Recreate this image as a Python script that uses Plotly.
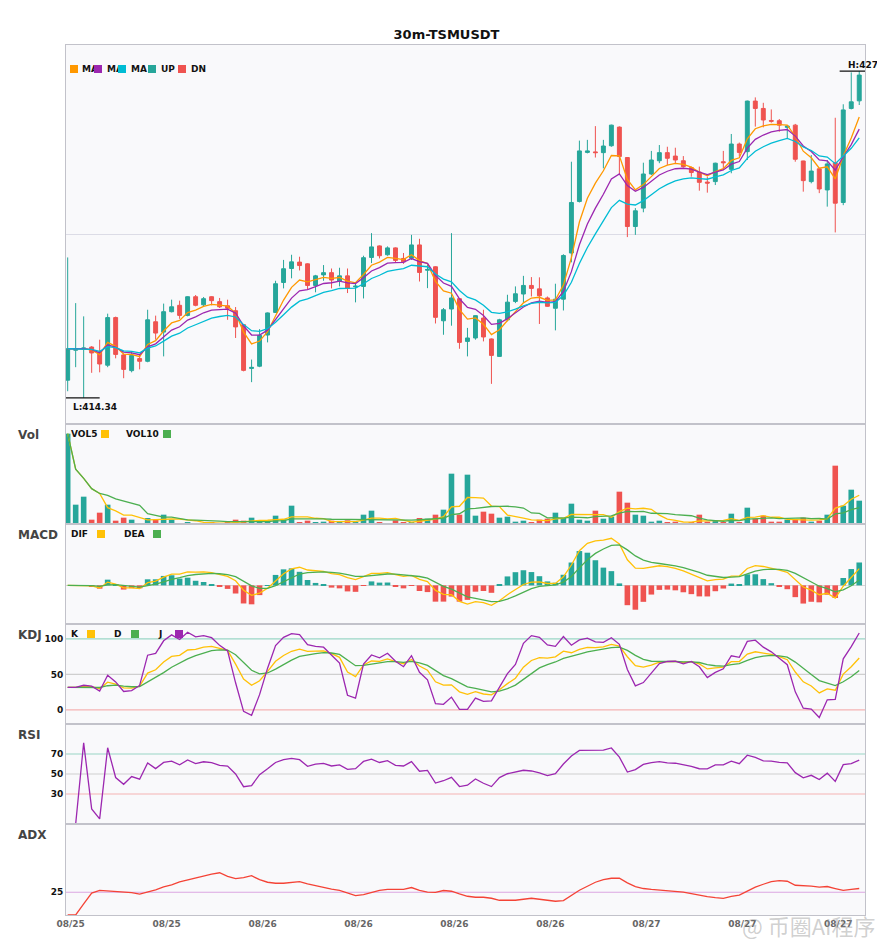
import numpy as np
import pandas as pd
import plotly.graph_objects as go
from plotly.subplots import make_subplots

# Farben wie im Original (TradingView / Material)
up_color = "#26A69A"
dn_color = "#EF5350"
ma_colors = ["#FF9800", "#9C27B0", "#00BCD4"]
yellow = "#FFC107"
green = "#4CAF50"
purple = "#9C27B0"
adx_color = "#F44336"
font_family = "DejaVu Sans"

title_text = "30m-TSMUSDT"

# 30m-Kerzen
opens = [415.06, 416.28, 416.33, 416.41, 416.21, 415.67, 417.61, 416.09, 415.45, 415.94,
         415.83, 417.44, 417.02, 417.85, 418.11, 417.70, 418.46, 418.13, 418.46, 418.26,
         418.09, 417.89, 417.32, 415.54, 415.63, 416.90, 417.82, 419.04, 419.61, 419.87,
         419.80, 418.92, 419.35, 419.44, 419.08, 419.31, 418.86, 418.88, 420.06, 420.53,
         420.17, 420.45, 420.02, 420.03, 420.57, 419.54, 419.68, 417.48, 417.96, 418.38,
         416.64, 416.78, 417.59, 416.74, 416.03, 417.52, 418.27, 418.57, 418.92, 418.78,
         418.41, 417.99, 418.36, 420.24, 422.34, 424.34, 424.36, 424.33, 424.61, 425.37,
         424.13, 421.32, 422.07, 423.46, 424.00, 424.33, 424.19, 424.00, 423.72, 423.54,
         423.13, 423.15, 423.96, 423.65, 424.68, 424.37, 426.43, 426.13, 425.64, 425.63,
         425.36, 425.45, 423.99, 423.15, 423.67, 422.81, 423.92, 422.30, 426.13, 426.44]
highs = [420.06, 418.20, 417.66, 416.45, 416.71, 417.77, 417.65, 416.12, 416.24, 416.10,
         417.93, 417.69, 418.18, 418.34, 418.30, 418.48, 418.53, 418.45, 418.48, 418.41,
         418.34, 418.04, 417.34, 415.90, 417.14, 417.82, 419.11, 419.96, 420.17, 420.09,
         419.82, 419.35, 419.75, 419.61, 419.64, 419.61, 419.02, 420.13, 421.05, 420.55,
         420.51, 420.47, 420.24, 420.98, 420.82, 419.76, 419.70, 418.00, 421.05, 418.40,
         417.19, 417.70, 417.93, 416.76, 417.56, 418.54, 418.88, 419.31, 419.26, 419.25,
         418.47, 418.99, 420.19, 423.96, 424.82, 424.85, 425.41, 424.85, 425.47, 425.40,
         424.14, 422.07, 423.92, 424.40, 424.64, 424.57, 424.53, 424.19, 423.76, 423.76,
         423.35, 423.92, 424.40, 425.09, 424.74, 426.45, 426.58, 426.36, 426.09, 425.70,
         425.45, 425.50, 424.00, 424.23, 423.70, 424.03, 425.75, 426.30, 427.60, 427.65]
lows = [414.61, 415.59, 414.34, 415.36, 415.38, 415.59, 415.95, 415.14, 415.38, 415.50,
        415.79, 416.71, 416.03, 417.82, 417.56, 417.66, 418.07, 418.07, 418.11, 418.00,
        417.52, 416.78, 415.42, 414.98, 415.59, 416.60, 417.80, 418.80, 419.21, 419.53,
        418.74, 418.64, 419.11, 418.80, 418.88, 418.61, 418.23, 418.39, 419.83, 420.02,
        420.13, 419.86, 419.80, 419.96, 419.08, 418.81, 417.37, 416.91, 417.28, 416.34,
        416.03, 416.71, 416.64, 414.91, 416.01, 417.46, 418.20, 418.20, 418.47, 417.35,
        418.05, 417.09, 417.90, 419.86, 422.30, 424.30, 424.13, 423.69, 424.57, 423.42,
        420.89, 420.98, 421.90, 423.42, 423.90, 423.83, 423.90, 423.72, 423.35, 422.78,
        422.70, 423.01, 423.62, 423.49, 424.17, 424.03, 425.39, 425.36, 425.55, 425.18,
        424.91, 423.96, 422.74, 423.08, 422.68, 422.13, 421.08, 422.19, 426.09, 426.27]
closes = [416.34, 416.33, 416.37, 416.17, 415.72, 417.61, 416.11, 415.50, 416.07, 415.83,
          417.52, 416.98, 417.85, 418.05, 417.70, 418.46, 418.11, 418.38, 418.30, 418.05,
          417.99, 417.23, 415.46, 415.58, 416.89, 417.80, 418.99, 419.60, 419.88, 419.73,
          418.92, 419.31, 419.44, 419.14, 419.31, 418.80, 418.89, 420.05, 420.49, 420.13,
          420.45, 419.94, 419.88, 420.57, 419.45, 419.57, 417.62, 417.93, 418.41, 416.60,
          416.78, 417.69, 416.82, 416.07, 417.52, 418.24, 418.58, 418.92, 418.80, 418.50,
          418.07, 418.36, 420.14, 422.30, 424.40, 424.40, 424.33, 424.60, 425.45, 424.17,
          421.32, 421.96, 423.46, 424.03, 424.33, 424.10, 424.03, 423.76, 423.52, 423.12,
          423.09, 423.90, 423.92, 424.68, 424.34, 426.43, 426.13, 425.66, 425.61, 425.45,
          425.41, 424.06, 423.19, 423.58, 422.85, 423.87, 422.27, 426.07, 426.40, 427.49]
volumes = [271, 58, 82, 13, 34, 58, 10, 19, 13, 3,
           18, 13, 28, 13, 2, 4, 2, 2, 4, 1,
           4, 13, 10, 19, 7, 7, 25, 13, 55, 4,
           10, 4, 7, 10, 4, 11, 4, 28, 40, 4,
           2, 11, 4, 6, 18, 16, 28, 43, 151, 28,
           148, 25, 37, 31, 19, 22, 7, 10, 4, 13,
           16, 34, 19, 61, 13, 10, 40, 16, 22, 97,
           64, 28, 25, 7, 10, 4, 7, 2, 4, 28,
           7, 10, 4, 31, 4, 49, 16, 25, 7, 7,
           13, 13, 19, 7, 10, 28, 175, 55, 103, 70]
adx_values = [0.0, 0.0, 12.2, 24.1, 27.0, 26.3, 26.3, 25.5, 24.5, 23.0,
              25.2, 27.7, 30.9, 33.1, 36.3, 38.5, 40.6, 42.8, 45.0, 46.4,
              42.4, 39.9, 41.0, 43.2, 38.8, 36.0, 34.9, 34.9, 35.6, 36.7,
              34.2, 32.0, 30.6, 28.4, 27.0, 23.7, 21.2, 22.3, 24.8, 27.0,
              28.1, 28.1, 28.1, 30.2, 27.0, 25.2, 24.9, 26.9, 26.1, 23.2,
              20.6, 19.5, 19.5, 18.4, 16.2, 16.2, 16.2, 17.3, 18.4, 17.3,
              16.2, 15.1, 15.8, 21.7, 27.2, 31.6, 36.0, 38.9, 40.4, 40.4,
              35.3, 31.2, 29.1, 28.1, 27.3, 27.0, 26.3, 25.2, 23.4, 21.6,
              20.1, 19.1, 18.3, 20.5, 21.9, 26.3, 30.6, 33.8, 36.7, 37.8,
              37.1, 32.7, 32.4, 31.7, 30.6, 31.3, 29.1, 27.0, 28.1, 29.1]
tick_pos = [0, 12, 24, 36, 48, 60, 72, 84, 96]
tick_labels = ["08/25", "08/25", "08/26", "08/26", "08/26", "08/26", "08/27", "08/27", "08/27"]

df = pd.DataFrame({"open": opens, "high": highs, "low": lows,
                   "close": closes, "volume": volumes, "adx": adx_values})
x = np.arange(len(df))
close = df["close"]
is_up = df["close"] >= df["open"]

# Indikatoren
ma1 = close.ewm(span=5, adjust=False).mean()
ma2 = close.ewm(span=8, adjust=False).mean()
ma3 = close.ewm(span=13, adjust=False).mean()
vol5 = df["volume"].rolling(5, min_periods=1).mean()
vol10 = df["volume"].rolling(10, min_periods=1).mean()
dif = close.ewm(span=6, adjust=False).mean() - close.ewm(span=13, adjust=False).mean()
dea = dif.ewm(span=5, adjust=False).mean()
macd_hist = 2 * (dif - dea)
llv = df["low"].rolling(9, min_periods=1).min()
hhv = df["high"].rolling(9, min_periods=1).max()
rsv = (close - llv) / (hhv - llv) * 100
k_line = rsv.ewm(com=2, adjust=False).mean()
d_line = k_line.ewm(com=2, adjust=False).mean()
j_line = 3 * k_line - 2 * d_line
delta = close.diff()
gain = delta.clip(lower=0).ewm(alpha=1 / 14, adjust=True).mean()
loss = (-delta.clip(upper=0)).ewm(alpha=1 / 14, adjust=True).mean()
rsi = 100 * gain / (gain + loss)

fig = make_subplots(rows=6, cols=1, shared_xaxes=True, vertical_spacing=0,
                    row_heights=[379, 100, 100, 100, 100, 91])

# Hauptchart
fig.add_trace(go.Candlestick(
    x=x, open=df["open"], high=df["high"], low=df["low"], close=df["close"],
    increasing=dict(line=dict(color=up_color, width=1), fillcolor=up_color),
    decreasing=dict(line=dict(color=dn_color, width=1), fillcolor=dn_color),
    whiskerwidth=0, hoverinfo="skip"), row=1, col=1)
for ma, col in zip([ma1, ma2, ma3], ma_colors):
    fig.add_trace(go.Scatter(x=x, y=ma, mode="lines", line=dict(color=col, width=1.3),
                             hoverinfo="skip"), row=1, col=1)

# Volumen
bar_colors = [up_color if u else dn_color for u in is_up]
fig.add_trace(go.Bar(x=x, y=df["volume"], marker_color=bar_colors, marker_line_width=0,
                     width=0.7), row=2, col=1)
fig.add_trace(go.Scatter(x=x, y=vol5, mode="lines", line=dict(color=yellow, width=1.3)), row=2, col=1)
fig.add_trace(go.Scatter(x=x, y=vol10, mode="lines", line=dict(color=green, width=1.3)), row=2, col=1)

# MACD
hist_colors = [up_color if v >= 0 else dn_color for v in macd_hist]
fig.add_trace(go.Bar(x=x, y=macd_hist, marker_color=hist_colors, marker_line_width=0,
                     width=0.7), row=3, col=1)
fig.add_trace(go.Scatter(x=x, y=dif, mode="lines", line=dict(color=yellow, width=1.3)), row=3, col=1)
fig.add_trace(go.Scatter(x=x, y=dea, mode="lines", line=dict(color=green, width=1.3)), row=3, col=1)

# KDJ
fig.add_trace(go.Scatter(x=x, y=k_line, mode="lines", line=dict(color=yellow, width=1.3)), row=4, col=1)
fig.add_trace(go.Scatter(x=x, y=d_line, mode="lines", line=dict(color=green, width=1.3)), row=4, col=1)
fig.add_trace(go.Scatter(x=x, y=j_line, mode="lines", line=dict(color=purple, width=1.3)), row=4, col=1)

# RSI
fig.add_trace(go.Scatter(x=x, y=rsi, mode="lines", line=dict(color=purple, width=1.3)), row=5, col=1)

# ADX
fig.add_trace(go.Scatter(x=x, y=df["adx"], mode="lines", line=dict(color=adx_color, width=1.3)), row=6, col=1)

# Referenzlinien
ref_lines = [(4, 100, "#9ad6c6"), (4, 50, "#cfcfcf"), (4, 0, "#f5b3b3"),
             (5, 70, "#9ad6c6"), (5, 50, "#cfcfcf"), (5, 30, "#f5b3b3"),
             (6, 25, "#dba6e2")]
for row, val, col in ref_lines:
    fig.add_hline(y=val, line=dict(color=col, width=1.2), layer="below", row=row, col=1)

# Achsen
lo_p, hi_p = df["low"].min(), df["high"].max()
pad_p = (hi_p - lo_p) * 0.08
main_range = [lo_p - pad_p, hi_p + pad_p]
m_lo = min(dif.min(), dea.min(), macd_hist.min())
m_hi = max(dif.max(), dea.max(), macd_hist.max())
m_pad = (m_hi - m_lo) * 0.2

axis_line = "#c2c2ca"
fig.update_xaxes(range=[-0.21, 99.72], showgrid=False, showline=True, mirror=True,
                 linecolor=axis_line, linewidth=1, rangeslider_visible=False,
                 showticklabels=False, ticks="", zeroline=False)
fig.update_xaxes(showticklabels=True, tickvals=tick_pos, ticktext=tick_labels,
                 ticklabelshift=3,
                 tickfont=dict(family=font_family, size=9, color="#666666", weight="bold"),
                 row=6, col=1)
fig.update_yaxes(showline=True, mirror=True, linecolor=axis_line, linewidth=1,
                 zeroline=False, ticks="", showgrid=False, showticklabels=False,
                 tickfont=dict(family=font_family, size=9, color="#111111", weight="bold"))
fig.update_yaxes(range=main_range, tickvals=[sum(main_range) / 2], showgrid=True,
                 gridcolor="#dcdce6", row=1, col=1)
fig.update_yaxes(range=[0, df["volume"].max() * 1.107], row=2, col=1)
fig.update_yaxes(range=[m_lo - m_pad, m_hi + m_pad], tickvals=[0], showgrid=True,
                 gridcolor="#d6d6d6", row=3, col=1)
fig.update_yaxes(range=[-20, 121], tickvals=[0, 50, 100], showticklabels=True, row=4, col=1)
fig.update_yaxes(range=[0, 100], tickvals=[30, 50, 70], showticklabels=True, row=5, col=1)
fig.update_yaxes(range=[0, 100], tickvals=[25], showticklabels=True, row=6, col=1)

# Seite hat 8px Rand -> Figur etwas kleiner, Plotfläche bei 66..865 / 45..915
PAGE = 8
L_M, T_M, W_P, H_P = 66, 45, 799, 870
FIG_W, FIG_H = 877, 934


def px(v):
    return (v - L_M) / W_P


def py(v):
    return (T_M + H_P - v) / H_P


def add_text(xl, yc, text, size=9, color="#111111"):
    fig.add_annotation(x=px(xl), y=py(yc), xref="paper", yref="paper", text=text,
                       showarrow=False, xanchor="left", yanchor="middle",
                       font=dict(family=font_family, size=size, color=color, weight="bold"))


def add_square(xc, yc, color, size=8):
    fig.add_annotation(x=px(xc), y=py(yc), xref="paper", yref="paper", text="&nbsp;",
                       showarrow=False, xanchor="center", yanchor="middle",
                       width=size, height=size, bgcolor=color, borderpad=0, borderwidth=0,
                       font=dict(size=4))


# Legende Hauptchart (Quadrat, dann Text; nächstes Quadrat überdeckt)
main_legend = [(73.8, ma_colors[0], "MA"), (98, ma_colors[1], "MA"), (122.2, ma_colors[2], "MA"),
               (152, up_color, "UP"), (182, dn_color, "DN")]
for xc, col, txt in main_legend:
    add_square(xc, 68.8, col, size=7.5)
    add_text(xc + 6.5, 68.8, txt)

# Legenden der Indikatoren
add_text(69, 433.7, "VOL5"); add_square(105, 433.7, yellow)
add_text(124, 433.7, "VOL10"); add_square(167, 433.7, green)
add_text(69, 533.7, "DIF"); add_square(101, 533.7, yellow)
add_text(122, 533.7, "DEA"); add_square(157, 533.7, green)
add_text(69, 633.7, "K"); add_square(91, 633.7, yellow)
add_text(112, 633.7, "D"); add_square(135, 633.7, green)
add_text(156, 633.7, "J"); add_square(179, 633.7, purple)

# Panel-Titel
for name, yc in [("Vol", 435), ("MACD", 534.5), ("KDJ", 635), ("RSI", 734.5), ("ADX", 835)]:
    add_text(16, yc, name, size=12, color="#444444")

# Hoch/Tief-Markierung
i_lo, i_hi = int(df["low"].idxmin()), int(df["high"].idxmax())
for idx, val, shift, label in [(i_lo, lo_p, -8.7, f"L:{lo_p:.2f}"), (i_hi, hi_p, 6, f"H:{hi_p:.2f}")]:
    fig.add_shape(type="line", x0=idx - 2.45, x1=idx + 2.0, y0=val, y1=val,
                  line=dict(color="#111111", width=1.3), row=1, col=1)
    fig.add_annotation(x=idx - 1.6, y=val, xref="x", yref="y", text=label, showarrow=False,
                       xanchor="left", yanchor="middle", yshift=shift,
                       font=dict(family=font_family, size=9, color="#111111", weight="bold"))

# Wasserzeichen
fig.add_annotation(x=px(878), y=py(925), xref="paper", yref="paper", text="@ 币圈AI程序",
                   showarrow=False, xanchor="right", yanchor="middle",
                   font=dict(family="Noto Sans CJK SC", size=22, color="rgba(150,150,150,0.45)"))

fig.update_layout(
    width=FIG_W, height=FIG_H,
    margin=dict(l=L_M - PAGE, r=FIG_W - (L_M - PAGE) - W_P, t=T_M - PAGE,
                b=FIG_H - (T_M - PAGE) - H_P),
    paper_bgcolor="white", plot_bgcolor="#f9f9fb",
    showlegend=False, bargap=0.3, hovermode=False,
    title=dict(text=title_text, x=0.5, xanchor="center", y=1 - (34.3 - PAGE) / FIG_H,
               yanchor="middle",
               font=dict(family=font_family, size=13, color="#111111", weight="bold")),
    font=dict(family=font_family),
)

fig.write_html("out.html", config={"displayModeBar": False})
